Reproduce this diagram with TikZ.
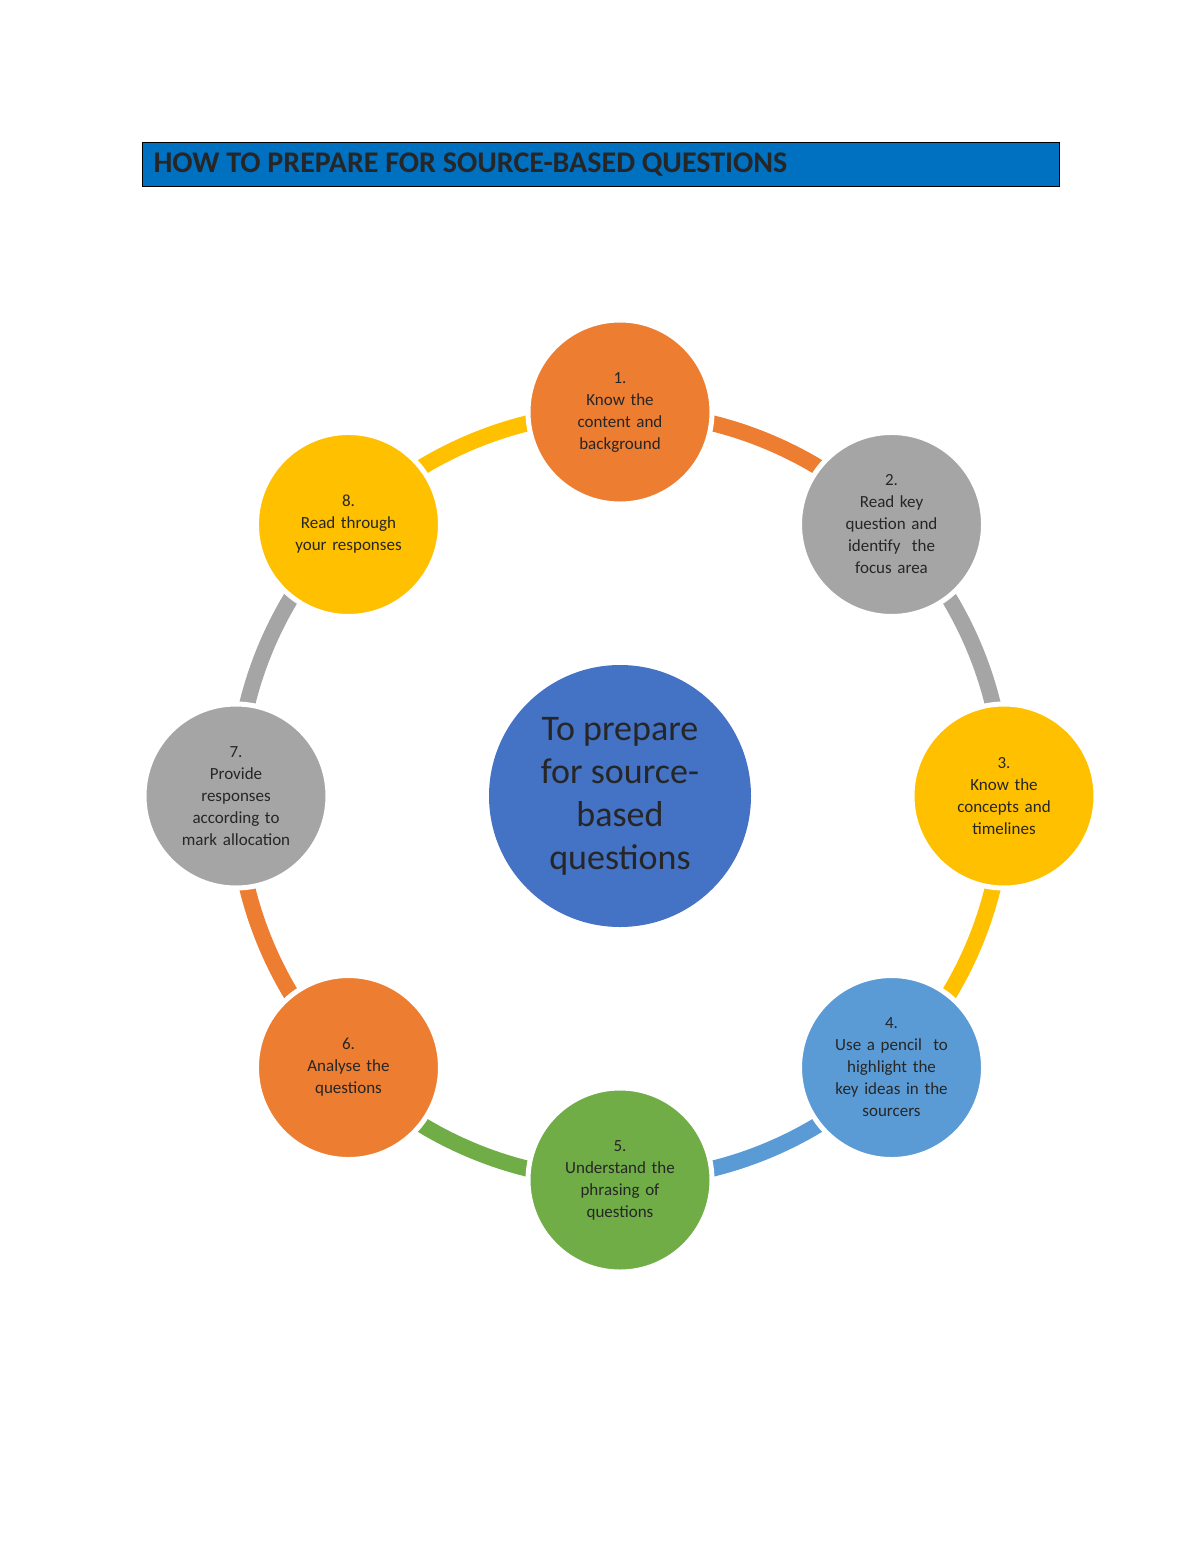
\documentclass[tikz,border=0pt]{standalone}
\usepackage{fontspec}
\setmainfont{Carlito}
\begin{document}
\begin{tikzpicture}[x=1pt,y=-1pt,
  stp/.style={circle,minimum size=184pt,inner sep=0pt,draw=white,line width=5pt,text width=140pt,align=center,text=black!85,font=\fontsize{17}{22}\selectfont},
  ring/.style={line width=16pt}]
\definecolor{cor}{HTML}{ED7D31}\definecolor{cgr}{HTML}{A5A5A5}
\definecolor{cye}{HTML}{FFC000}\definecolor{cbl}{HTML}{5B9BD5}
\definecolor{cgn}{HTML}{70AD47}\definecolor{cdb}{HTML}{4472C4}
\definecolor{tb}{HTML}{0070C0}
\useasboundingbox (0,0) rectangle (1200,1553);
\node[draw=black,line width=1pt,fill=tb,minimum width=917pt,minimum height=44pt,anchor=north west,inner sep=0pt] (title) at (142,142) {};
\node[anchor=west,font=\bfseries\fontsize{30}{34}\selectfont,text=black!85] (tt) at (150,165) {HOW TO PREPARE FOR SOURCE-BASED QUESTIONS};
\coordinate (c) at (620,796);
\foreach \a/\col in {-90/cor,-45/cgr,0/cye,45/cbl,90/cgn,135/cor,180/cgr,225/cye}
  \draw[ring,\col] ([shift={(c)}]\a:384) arc[start angle=\a,end angle=\a+45,radius=384];
\node[circle,fill=cdb,minimum size=262pt,inner sep=0pt,align=center,text=black!85,font=\fontsize{36}{43}\selectfont] (center) at (c) {To prepare\\for source-\\based\\questions};
\node[stp,fill=cor] (s1) at ([shift={(c)}]-90:384) {1.\\Know the\\content and\\background};
\node[stp,fill=cgr] (s2) at ([shift={(c)}]-45:384) {2.\\Read key\\question and\\identify \ the\\focus area};
\node[stp,fill=cye] (s3) at ([shift={(c)}]0:384) {3.\\Know the\\concepts and\\timelines};
\node[stp,fill=cbl] (s4) at ([shift={(c)}]45:384) {4.\\Use a pencil \ to\\highlight the\\key ideas in the\\sourcers};
\node[stp,fill=cgn] (s5) at ([shift={(c)}]90:384) {5.\\Understand the\\phrasing of\\questions};
\node[stp,fill=cor] (s6) at ([shift={(c)}]135:384) {6.\\Analyse the\\questions};
\node[stp,fill=cgr] (s7) at ([shift={(c)}]180:384) {7.\\Provide\\responses\\according to\\mark allocation};
\node[stp,fill=cye] (s8) at ([shift={(c)}]225:384) {8.\\Read through\\your responses};
\end{tikzpicture}
\end{document}
